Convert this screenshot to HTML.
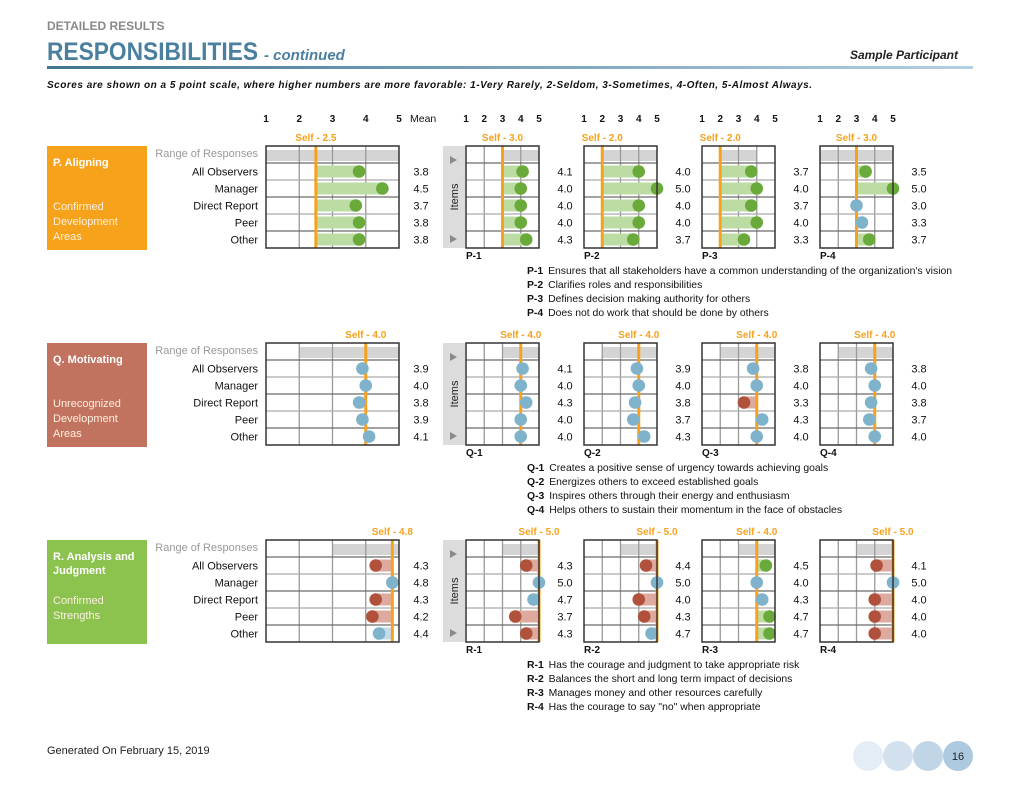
<!DOCTYPE html>
<html><head><meta charset="utf-8">
<style>
body{margin:0;background:#fff;}
svg{display:block;font-family:"Liberation Sans",sans-serif;}
</style></head>
<body>
<svg id="page" width="1024" height="792" viewBox="0 0 1024 792" xmlns="http://www.w3.org/2000/svg">
<defs>
<linearGradient id="hdrline" x1="0" x2="1" y1="0" y2="0">
<stop offset="0" stop-color="#3f7596"/><stop offset="1" stop-color="#b3cfe2"/>
</linearGradient>
</defs>
<text x="47" y="30" font-size="12" font-weight="bold" fill="#8a8a8a">DETAILED RESULTS</text>
<text x="47" y="60" font-size="25" font-weight="bold" fill="#4a7fa0" textLength="211" lengthAdjust="spacingAndGlyphs">RESPONSIBILITIES</text>
<text x="264" y="60" font-size="15" font-weight="bold" font-style="italic" fill="#4a7fa0">- continued</text>
<text x="958" y="59" font-size="12" font-weight="bold" font-style="italic" fill="#222" text-anchor="end">Sample Participant</text>
<rect x="47" y="66" width="926" height="3" fill="url(#hdrline)"/>
<text x="47" y="88" font-size="10" font-weight="bold" font-style="italic" fill="#111" textLength="765" lengthAdjust="spacing">Scores are shown on a 5 point scale, where higher numbers are more favorable: 1-Very Rarely, 2-Seldom, 3-Sometimes, 4-Often, 5-Almost Always.</text>
<g id="charts"></g>
<text x="47" y="754" font-size="11" fill="#222">Generated On February 15, 2019</text>
<circle cx="868" cy="756" r="15" fill="#e4edf6"/>
<circle cx="898" cy="756" r="15" fill="#d3e1ee"/>
<circle cx="928" cy="756" r="15" fill="#c0d5e6"/>
<circle cx="958" cy="756" r="15" fill="#adc9e0"/>
<text x="958" y="760" font-size="11" fill="#222" text-anchor="middle">16</text>
</svg>
<script>
const rowLabels = ["All Observers","Manager","Direct Report","Peer","Other"];
const sectionTitles = ["P. Aligning","Q. Motivating","R. Analysis and Judgment"];
const sectionSubtitles = [["Confirmed","Development","Areas"],["Unrecognized","Development","Areas"],["Confirmed","Strengths"]];
const sectionPrefixes = ["P","Q","R"];
const mainSelf = [2.5, 4.0, 4.8];
const mainValues = [[3.8,4.5,3.7,3.8,3.8],[3.9,4.0,3.8,3.9,4.1],[4.3,4.8,4.3,4.2,4.4]];
const mainRangeMin = [1, 2, 3];
const mainRangeMax = [5, 5, 5];
const itemSelf = [[3.0,2.0,2.0,3.0],[4.0,4.0,4.0,4.0],[5.0,5.0,4.0,5.0]];
const itemValuesP = [[4.1,4.0,4.0,4.0,4.3],[4.0,5.0,4.0,4.0,3.7],[3.7,4.0,3.7,4.0,3.3],[3.5,5.0,3.0,3.3,3.7]];
const itemValuesQ = [[4.1,4.0,4.3,4.0,4.0],[3.9,4.0,3.8,3.7,4.3],[3.8,4.0,3.3,4.3,4.0],[3.8,4.0,3.8,3.7,4.0]];
const itemValuesR = [[4.3,5.0,4.7,3.7,4.3],[4.4,5.0,4.0,4.3,4.7],[4.5,4.0,4.3,4.7,4.7],[4.1,5.0,4.0,4.0,4.0]];
const itemRangeMin = [[3,2,2,1],[3,2,2,2],[3,3,3,3]];
const itemRangeMax = [[5,5,4,5],[5,5,5,5],[5,5,5,5]];
const descP = ["Ensures that all stakeholders have a common understanding of the organization's vision","Clarifies roles and responsibilities","Defines decision making authority for others","Does not do work that should be done by others"];
const descQ = ["Creates a positive sense of urgency towards achieving goals","Energizes others to exceed established goals","Inspires others through their energy and enthusiasm","Helps others to sustain their momentum in the face of obstacles"];
const descR = ["Has the courage and judgment to take appropriate risk","Balances the short and long term impact of decisions","Manages money and other resources carefully","Has the courage to say \"no\" when appropriate"];
const tickLabels = ["1","2","3","4","5"];

const itemValues=[itemValuesP,itemValuesQ,itemValuesR];
const descs=[descP,descQ,descR];
const boxColors=["#f7a21b","#c2735f","#8cc34f"];
const NS="http://www.w3.org/2000/svg";
const root=document.getElementById('charts');
function el(tag,attrs,parent,text){const e=document.createElementNS(NS,tag);for(const k in attrs)e.setAttribute(k,attrs[k]);if(text!==undefined)e.textContent=text;(parent||root).appendChild(e);return e;}
function colorFor(v,s){const d=v-s;if(d>=0.45)return["#6aaa3a","#bcdca4"];if(d<=-0.45)return["#b0513c","#deaaa0"];return["#7fb3cc","#c2dcea"];}

function drawChart(g,x0,x1,top,self,vals,rmin,rmax,name){
  const sx=v=>x0+(v-1)*(x1-x0)/4;
  const rowH=17, rangeH=17, bottom=top+rangeH+rowH*5;
  let r=el('rect',{x:sx(rmin),y:top+4,width:sx(rmax)-sx(rmin),height:11,fill:"#d4d4d4"},g);
  
  
  for(let i=2;i<=4;i++){let l=el('line',{x1:sx(i),x2:sx(i),y1:top,y2:bottom,stroke:"#9a9a9a","stroke-width":1.3},g);
    
    }
  for(let j=0;j<5;j++){const y=top+rangeH+j*rowH;let l=el('line',{x1:x0,x2:x1,y1:y,y2:y,stroke:(j%2==0?"#6a6a6a":"#aaa"),"stroke-width":1.3},g);
    
    }
  vals.forEach((v,j)=>{
    const cy=top+rangeH+j*rowH+rowH/2;const c=colorFor(v,self);
    const a=Math.min(sx(v),sx(self)),b=Math.max(sx(v),sx(self));
    let bar=el('rect',{x:a,y:cy-6,width:b-a,height:12,fill:c[1]},g);
    
    
  });
  let sl=el('line',{x1:sx(self),x2:sx(self),y1:top,y2:bottom,stroke:"#f6a21e","stroke-width":3},g);
  
  
  vals.forEach((v,j)=>{
    const cy=top+rangeH+j*rowH+rowH/2;const c=colorFor(v,self);
    let d=el('circle',{cx:sx(v),cy:cy,r:6.3,fill:c[0]},g);
    
    
  });
  let fr=el('rect',{x:x0,y:top,width:x1-x0,height:bottom-top,fill:"none",stroke:"#333","stroke-width":1.5},g);
  
  
  let st=el('text',{x:sx(self),y:top-5,"font-size":10,"font-weight":"bold",fill:"#f6a21e","text-anchor":"middle"},g,"Self - "+self.toFixed(1));
  
  
}

const mainX0=266,mainX1=399;
const itemX0=[466,584,702,820],itemW=73;
function tickRow(x0,x1,y,nm){const sx=v=>x0+(v-1)*(x1-x0)/4;tickLabels.forEach((t,i)=>{let e=el('text',{x:sx(i+1),y:y,"font-size":10,"font-weight":"bold",fill:"#111","text-anchor":"middle"},root,t);
  
  });}
tickRow(mainX0,mainX1,122,'main');
let mh=el('text',{x:410,y:122,"font-size":10.5,fill:"#111"},root,"Mean");


itemX0.forEach((x,k)=>tickRow(x,x+itemW,122,'item'+(k+1)));

for(let s=0;s<3;s++){
  const off=s*197, top=146+off;
  const g=el('g',{},root);
  
  
  let box=el('rect',{x:47,y:top,width:100,height:104,fill:boxColors[s]},g);
  
  
  const tl=sectionTitles[s]==="R. Analysis and Judgment"?["R. Analysis and","Judgment"]:[sectionTitles[s]];
  tl.forEach((t,i)=>{let e=el('text',{x:53,y:top+20+i*14,"font-size":11,"font-weight":"bold",fill:"#fff"},g,t);
    
    });
  sectionSubtitles[s].forEach((t,i)=>{let e=el('text',{x:53,y:top+64+i*15,"font-size":11,fill:"#fdf0e0"},g,t);
    
    });
  let rr=el('text',{x:258,y:top+11,"font-size":11,fill:"#999","text-anchor":"end"},g,"Range of Responses");
  
  
  rowLabels.forEach((t,j)=>{let e=el('text',{x:258,y:top+17+j*17+12.5,"font-size":11,fill:"#111","text-anchor":"end"},g,t);
    
    });
  drawChart(g,mainX0,mainX1,top,mainSelf[s],mainValues[s],mainRangeMin[s],mainRangeMax[s],'main-'+sectionPrefixes[s].toLowerCase());
  mainValues[s].forEach((v,j)=>{let e=el('text',{x:421,y:top+17+j*17+12.5,"font-size":11,fill:"#111","text-anchor":"middle"},g,v.toFixed(1));
    
    });
  let ip=el('rect',{x:443,y:top,width:22,height:102,fill:"#dcdcdc"},g);
  
  
  let it=el('text',{x:0,y:0,"font-size":11,fill:"#222","text-anchor":"middle",transform:`translate(458,${top+51}) rotate(-90)`},g,"Items");
  
  
  [top+14,top+93].forEach(y=>{let a=el('path',{d:`M450 ${y-4} L457 ${y} L450 ${y+4}Z`,fill:"#8a8a8a"},g);
    
    });
  for(let k=0;k<4;k++){
    const x0=itemX0[k],nm=sectionPrefixes[s]+'-'+(k+1);
    drawChart(g,x0,x0+itemW,top,itemSelf[s][k],itemValues[s][k],itemRangeMin[s][k],itemRangeMax[s][k],nm.toLowerCase());
    itemValues[s][k].forEach((v,j)=>{let e=el('text',{x:x0+itemW+26,y:top+17+j*17+12.5,"font-size":11,fill:"#111","text-anchor":"middle"},g,v.toFixed(1));
      
      });
    let il=el('text',{x:x0,y:top+113,"font-size":10,"font-weight":"bold",fill:"#111"},g,nm);
    
    
  }
  descs[s].forEach((t,i)=>{let e=el('text',{x:527,y:top+128+i*14,"font-size":10.4,fill:"#111"},g);
    
    
    el('tspan',{"font-weight":"bold"},e,sectionPrefixes[s]+'-'+(i+1)+' ');
    el('tspan',{dx:2},e,t);});
}
</script>
</body></html>
